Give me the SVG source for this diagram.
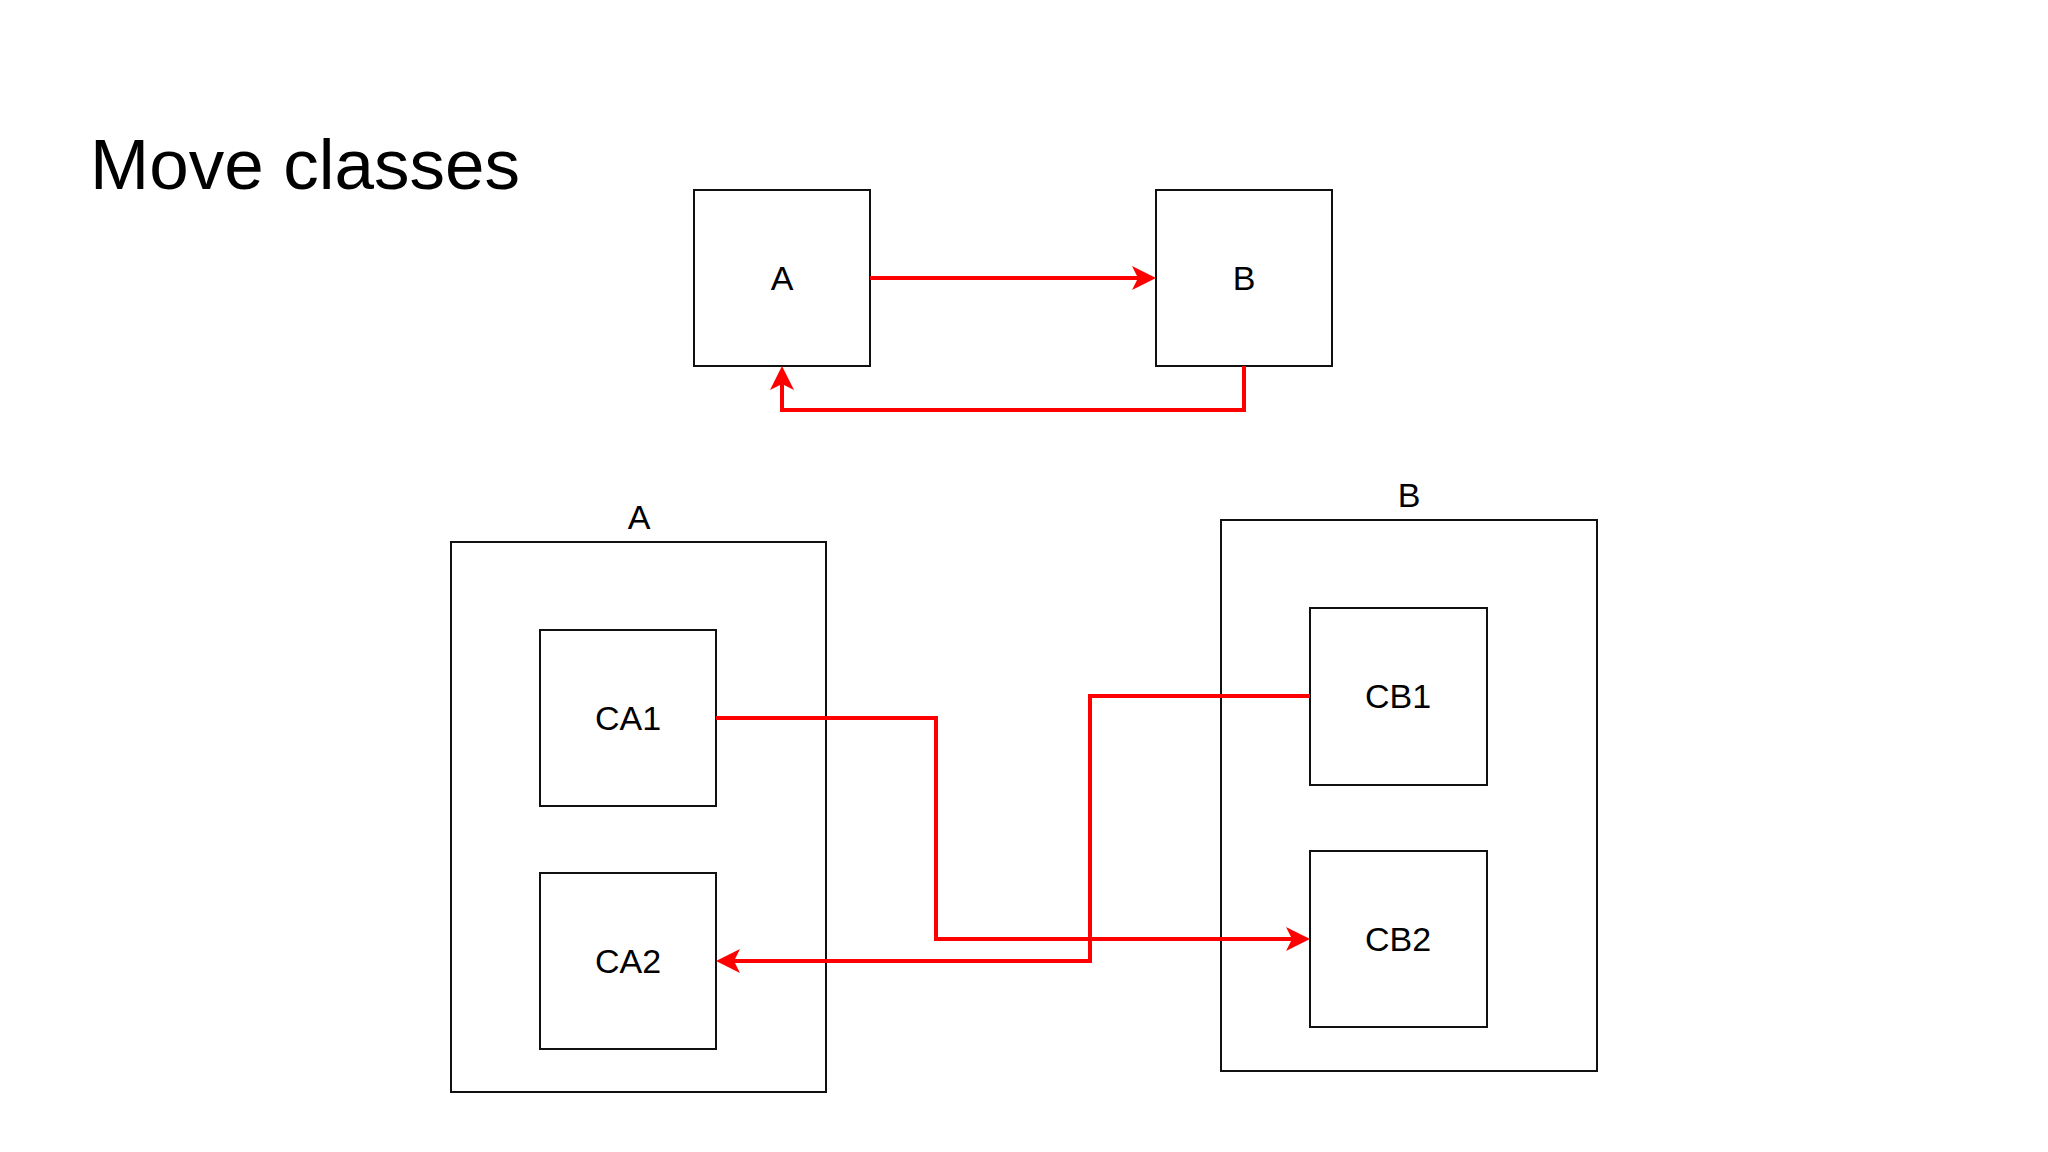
<svg xmlns="http://www.w3.org/2000/svg" width="2048" height="1152" viewBox="0 0 2048 1152">
<style>
  .box { fill: #ffffff; stroke: #111111; stroke-width: 2; }
  .lbl { font-family: "Liberation Sans", Arial, sans-serif; font-size: 34px; fill: #000000; text-anchor: middle; }
  .title { font-family: "Liberation Sans", Arial, sans-serif; font-size: 71px; fill: #000000; }
  .edge { fill: none; stroke: #ff0000; stroke-width: 4; stroke-linejoin: miter; marker-end: url(#arrow); }
</style>
<defs>
  <marker id="arrow" markerUnits="userSpaceOnUse" markerWidth="30" markerHeight="30" viewBox="-2 -15 30 30" refX="18" refY="0" orient="auto">
    <path d="M0,-12 L24,0 L0,12 L6,0 Z" fill="#ff0000"/>
  </marker>
</defs>
<rect width="2048" height="1152" fill="#ffffff"/>
<text class="title" x="90" y="189">Move classes</text>

<g id="node-A-top">
  <rect class="box" x="694" y="190" width="176" height="176"/>
  <text class="lbl" x="782" y="290">A</text>
</g>
<g id="node-B-top">
  <rect class="box" x="1156" y="190" width="176" height="176"/>
  <text class="lbl" x="1244" y="290">B</text>
</g>

<g id="node-A-pkg">
  <rect class="box" x="451" y="542" width="375" height="550"/>
  <text class="lbl" x="639" y="529">A</text>
</g>
<g id="node-B-pkg">
  <rect class="box" x="1221" y="520" width="376" height="551"/>
  <text class="lbl" x="1409" y="507">B</text>
</g>
<g id="node-CA1">
  <rect class="box" x="540" y="630" width="176" height="176"/>
  <text class="lbl" x="628" y="730">CA1</text>
</g>
<g id="node-CA2">
  <rect class="box" x="540" y="873" width="176" height="176"/>
  <text class="lbl" x="628" y="973">CA2</text>
</g>
<g id="node-CB1">
  <rect class="box" x="1310" y="608" width="177" height="177"/>
  <text class="lbl" x="1398" y="708">CB1</text>
</g>
<g id="node-CB2">
  <rect class="box" x="1310" y="851" width="177" height="176"/>
  <text class="lbl" x="1398" y="951">CB2</text>
</g>

<g id="connectors">
  <path class="edge" d="M870,278 L1150,278"/>
  <path class="edge" d="M1244,366 L1244,410 L782,410 L782,372"/>
  <path class="edge" d="M716,718 L936,718 L936,939 L1304,939"/>
  <path class="edge" d="M1310,696 L1090,696 L1090,961 L722,961"/>
</g>
</svg>
